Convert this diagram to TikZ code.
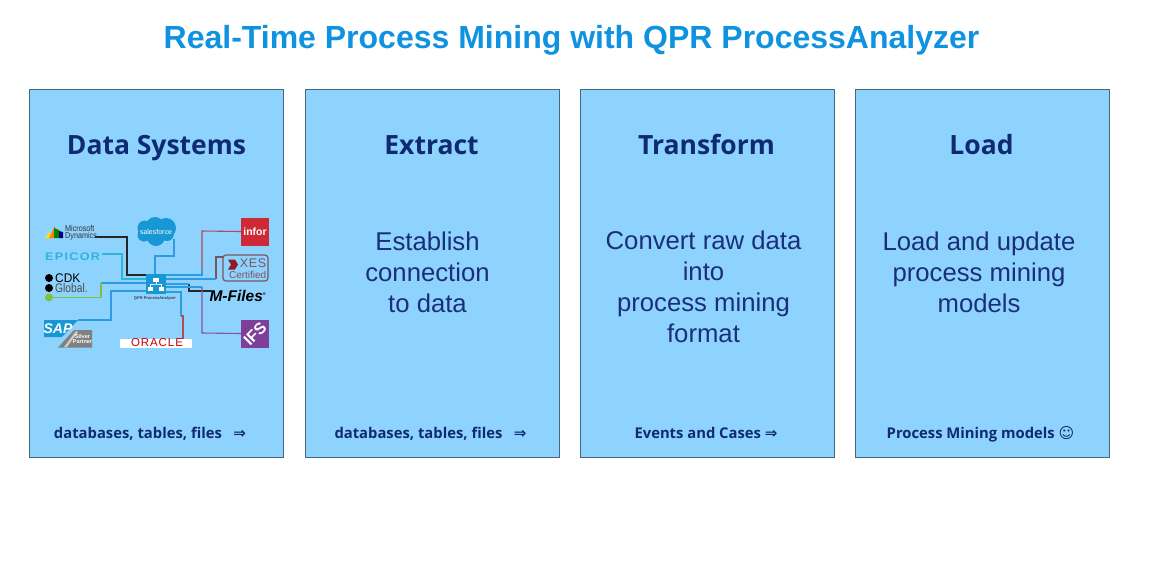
\documentclass[tikz,border=0pt]{standalone}
\usepackage{fontspec}
\setmainfont{Liberation Sans}
\newfontfamily\headfont{Open Sans}
\newfontfamily\symfont{DejaVu Sans}
\definecolor{panelblue}{HTML}{8DD3FE}
\definecolor{paneledge}{HTML}{46687F}
\definecolor{navy}{HTML}{0F2A72}
\definecolor{titleblue}{HTML}{0F93E0}
\definecolor{bodyblue}{HTML}{1B2F78}
\definecolor{linkblue}{HTML}{2F9BE0}
\definecolor{epicorblue}{HTML}{2FB4DC}
\definecolor{sfblue}{HTML}{1798D5}
\definecolor{linkred}{HTML}{B04A5E}
\definecolor{linkpurple}{HTML}{8A4FA8}
\definecolor{inforred}{HTML}{CE2A35}
\definecolor{ifspurple}{HTML}{7E3F98}
\definecolor{linkgreen}{HTML}{7CC242}
\definecolor{xesbrown}{HTML}{7A5560}
\tikzset{
  panel/.style={draw=paneledge,line width=0.7pt,fill=panelblue,minimum width=254pt,minimum height=367.5pt,anchor=north west,inner sep=0pt},
  heading/.style={font=\headfont\bfseries\fontsize{26.5}{32}\selectfont,text=navy,inner sep=0pt,anchor=base},
  body/.style={font=\fontsize{25.7}{31}\selectfont,text=bodyblue,align=center,inner sep=0pt},
  foot/.style={font=\headfont\bfseries\fontsize{14.8}{17}\selectfont,text=navy,inner sep=0pt,anchor=base},
  logo/.style={inner sep=0pt},
  link/.style={line width=1.1pt,linkblue},
  linkother/.style={line width=1.1pt},
}
\begin{document}
\begin{tikzpicture}[x=1pt,y=-1pt]
\useasboundingbox (0,0) rectangle (1155,568);
\node[font=\bfseries\fontsize{32}{38}\selectfont,text=titleblue,inner sep=0pt,anchor=base] (title) at (571.5,48) {Real-Time Process Mining with QPR ProcessAnalyzer};

\node[panel] (p1) at (29,89) {};
\node[panel] (p2) at (305,89) {};
\node[panel] (p3) at (580,89) {};
\node[panel] (p4) at (855,89) {};

\node[heading] (h1) at (156.5,154.5) {Data Systems};
\node[heading] (h2) at (431.5,154.5) {Extract};
\node[heading] (h3) at (706.5,154.5) {Transform};
\node[heading] (h4) at (981.5,154.5) {Load};

\node[body] (b2) at (427.5,272) {Establish\\connection\\to data};
\node[body] (b3) at (703.5,287) {Convert raw data\\into\\process mining\\format};
\node[body] (b4) at (979,272) {Load and update\\process mining\\models};

\node[foot] (f1) at (150,438) {databases, tables, files\, {\symfont\fontsize{15}{17}\selectfont\ ⇒}};
\node[foot] (f2) at (430.5,438) {databases, tables, files\, {\symfont\fontsize{15}{17}\selectfont\ ⇒}};
\node[foot] (f3) at (706,438) {Events and Cases {\symfont\fontsize{15}{17}\selectfont ⇒}};
\node[foot] (f4) at (980.5,438) {Process Mining models {\symfont\fontsize{15}{17}\selectfont ☺}};

% hub
\node[fill=sfblue,minimum width=20pt,minimum height=20pt,inner sep=0pt] (hub) at (156,284) {};
\node[fill=white,minimum width=6pt,minimum height=4pt,inner sep=0pt] (hubtop) at (156,279.5) {};
\node[fill=white,minimum width=5pt,minimum height=4pt,inner sep=0pt] (hubl) at (150.5,289) {};
\node[fill=white,minimum width=5pt,minimum height=4pt,inner sep=0pt] (hubr) at (161.5,289) {};
\draw[white,line width=0.8pt] (hubtop.south) -- (156,284) (hubl.north) |- (156,284) -| (hubr.north);
\node[font=\bfseries\fontsize{4}{5}\selectfont,text=black!75,inner sep=0pt] (hublabel) at (155,298) {QPR ProcessAnalyzer};

% logos
\node[logo,font=\fontsize{8.5}{7.5}\selectfont,align=left,text=black!80,anchor=west] (msft) at (65,233) {\scalebox{.85}[1]{Microsoft}\\\scalebox{.85}[1]{Dynamics}};
\fill[yellow!85!orange] (45,238) -- (50,231) -- (50,238) -- cycle;
\fill[orange] (49,238) -- (55,226) -- (55,238) -- cycle;
\fill[green!50!black] (54,238) -- (54,228) -- (59,230) -- (59,238) -- cycle;
\fill[blue!50!black] (59,238) -- (59,231) -- (63,232) -- (63,238) -- cycle;

\node[logo,font=\bfseries\fontsize{11}{11}\selectfont,text=epicorblue,anchor=west] (epicor) at (45,257) {\scalebox{1.15}[1]{\addfontfeature{LetterSpace=10}EPICOR}};

\node[logo,font=\fontsize{12.5}{10}\selectfont,text=black,align=left,anchor=west] (cdk) at (55,283) {\scalebox{.95}[1]{CDK}\\\scalebox{.82}[1]{\color{black!70}Global.}};
\fill[black] (49,278) circle (4pt);
\fill[black] (49,288) circle (4pt);
\node[circle,fill=linkgreen,minimum size=8pt,inner sep=0pt] (cdkdot) at (49,297.5) {};

\fill[black!50] (74,330) -- (92,330) -- (92,347.5) -- (58,347.5) -- cycle;
\fill[black!20] (76,331) -- (64,347) -- (67,347) -- (78,332) -- cycle;
\node[font=\bfseries\fontsize{5.5}{5.5}\selectfont,text=white,align=center,inner sep=0pt] (saptext) at (82.5,339) {Silver\\Partner};
\fill[sfblue] (44,320) -- (78,320) -- (62,337) -- (44,337) -- cycle;
\node[logo,font=\bfseries\itshape\fontsize{14}{14}\selectfont,text=white] (sap) at (58,328.5) {SAP};

\node[fill=white,minimum width=72pt,minimum height=9pt,inner sep=0pt] (oracle) at (156,343) {};
\node[font=\fontsize{11.5}{11.5}\selectfont,text=red!80!black,inner sep=0pt] (oracletext) at (157,343) {\addfontfeature{LetterSpace=8}ORACLE};

\fill[sfblue] (145,228) circle (7.5pt) (155,226) circle (9pt) (166,228) circle (10pt) (156,237) circle (9pt) (144,235) circle (6.5pt) (167,234) circle (7pt);
\node[font=\fontsize{7}{8}\selectfont,text=white,inner sep=0pt] (sf) at (156,231.5) {salesforce};

\node[fill=inforred,minimum size=28pt,inner sep=0pt,font=\bfseries\fontsize{10.5}{11}\selectfont,text=white] (infor) at (255,231.5) {infor};
\node[draw=xesbrown,line width=1.2pt,rounded corners=3pt,minimum width=45pt,minimum height=26pt,inner sep=0pt] (xes) at (245.5,268) {};
\node[font=\fontsize{12.5}{12.5}\selectfont,text=xesbrown,inner sep=0pt,anchor=east] (xestop) at (266.5,263.5) {\addfontfeature{LetterSpace=6}XES};
\node[font=\fontsize{10}{10}\selectfont,text=xesbrown,inner sep=0pt,anchor=east] (xesbottom) at (266.5,274.8) {Certified};
\fill[inforred!70!black] (228,259.5) -- (235,259.5) -- (238,264.5) -- (235,269.5) -- (228,269.5) -- (231,264.5) -- cycle;
\node[logo,font=\bfseries\itshape\fontsize{15.5}{16}\selectfont,text=black] (mfiles) at (238,295.5) {M-Files\textsuperscript{\fontsize{4}{4}\selectfont ®}};
\node[fill=ifspurple,minimum size=28pt,inner sep=0pt,font=\bfseries\fontsize{16}{16}\selectfont,text=white] (ifs) at (255,333.5) {\rotatebox{45}{IFS}};

% connectors
\coordinate (hubw1) at (146,275);
\coordinate (hubw2) at (146,279);
\coordinate (hubw3) at (146,283);
\coordinate (hubw4) at (146,291);
\coordinate (hube1) at (166,275);
\coordinate (hube2) at (166,279);
\coordinate (hube3) at (166,284);
\coordinate (hube4) at (166,287);
\coordinate (hube5) at (166,292);
\coordinate (sfport) at (174,239);
\coordinate (msftport) at (95,237);
\coordinate (epicorport) at (102,254);
\coordinate (sapport) at (78,320);
\coordinate (xesport) at (223,257);
\coordinate (mfport) at (212,291);
\coordinate (oracleport) at (183,338.5);

\draw[linkother,black!85] (msftport) -- (127,237) -- (127,275) -- (hubw1);
\draw[linkother,epicorblue] (epicorport) -- (122,254) -- (122,279) -- (hubw2);
\draw[link] (101,283) -- (hubw3);
\draw[linkother,linkgreen] (cdkdot.east) -- (101,297.5) -- (101,283);
\draw[link] (sapport) -- (111,320) -- (111,291) -- (hubw4);
\draw[link] (sfport) -- (174,256) -- (155,256) -- (155,274);
\draw[linkother,linkred] (infor.west) -- (202,231) -- (202,270);
\draw[link] (202,270) -- (202,275) -- (hube1);
\draw[linkother,xesbrown] (xesport) -- (216,257) -- (216,279);
\draw[link] (216,279) -- (hube2);
\draw[linkother,black!85] (mfport) -- (189,291) -- (189,284);
\draw[link] (189,284) -- (hube3);
\draw[linkother,linkpurple] (ifs.west) -- (202,333) -- (202,287);
\draw[link] (202,287) -- (hube4);
\draw[link] (hube5) -- (181,292) -- (181,316);
\draw[linkother,linkred] (181,316) -- (183,316) -- (oracleport);
\end{tikzpicture}
\end{document}
